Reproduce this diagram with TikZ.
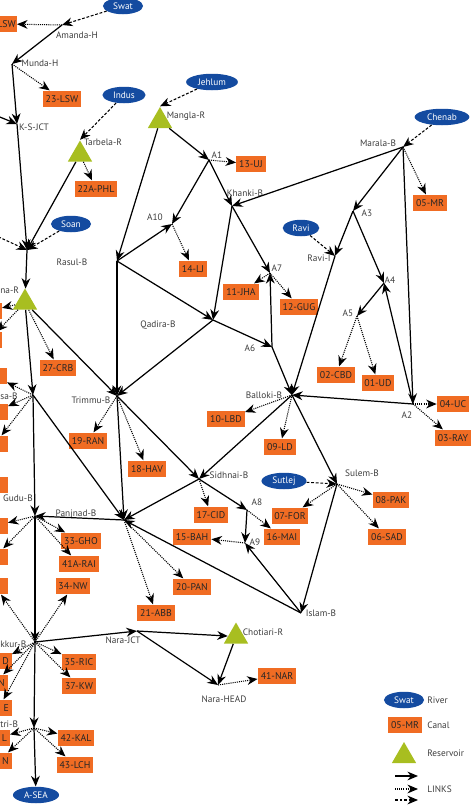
\documentclass[tikz,border=0pt]{standalone}
\usepackage{fontspec}
\setmainfont{PT Sans}
\usetikzlibrary{arrows.meta,shapes.geometric}
\definecolor{riverblue}{RGB}{20,75,160}
\definecolor{canalorange}{RGB}{240,108,35}
\definecolor{resgreen}{RGB}{168,190,32}
\definecolor{sitegray}{RGB}{60,60,60}
\tikzset{
	river/.style={ellipse, fill=riverblue, text=white, minimum height=0.33cm, inner xsep=2.5pt, inner ysep=0pt},
	canal/.style={rectangle, fill=canalorange, text=black!85, font=\fontsize{5.6}{6.5}\selectfont, minimum height=0.33cm, inner xsep=1.6pt, inner ysep=0pt},
	cutcanal/.style={canal, anchor=east, text width=0.4cm, align=right},
	reservoir/.style={regular polygon, regular polygon sides=3, fill=resgreen, minimum size=0.56cm, inner sep=0pt},
	site/.style={text=sitegray, inner sep=0pt},
	flow/.style={-{Stealth[length=6pt,width=5pt]}, line width=0.7pt},
	inflow/.style={flow, line width=0.6pt, dash pattern=on 1.6pt off 1pt},
	offtake/.style={flow, line width=0.6pt, dash pattern=on 0.6pt off 0.6pt}
}
\begin{document}
\begin{tikzpicture}[x=0.02cm, y=-0.02cm, font=\fontsize{5.3}{6}\selectfont]
	\useasboundingbox (0,0) rectangle (474,805);
	\clip (0,0) rectangle (474,805);

	\node[river] (swat) at (123,6) {Swat};
	\node[river] (indus) at (124,95) {Indus};
	\node[river] (soan) at (71,224) {Soan};
	\node[river] (jehlum) at (212,82) {Jehlum};
	\node[river] (chenab) at (442,117) {Chenab};
	\node[river] (ravi) at (301,228) {Ravi};
	\node[river] (sutlej) at (284,481) {Sutlej};
	\node[river] (asea) at (36,795) {A-SEA};

	\node[reservoir] (tarbela) at (80,154.5) {};
	\node[reservoir] (mangla) at (160,121) {};
	\node[reservoir] (chashma) at (25,302.5) {};
	\node[reservoir] (chotiari) at (236,636.5) {};

	\coordinate (amanda) at (62,25);
	\coordinate (munda) at (12,64);
	\coordinate (ksjct) at (17,124);
	\coordinate (confl) at (27,250);
	\coordinate (rasul) at (117,261);
	\coordinate (a10) at (172,224);
	\coordinate (a1) at (209,160);
	\coordinate (khanki) at (232,206);
	\coordinate (marala) at (403,147);
	\coordinate (a3) at (353,211);
	\coordinate (ravii) at (335,256);
	\coordinate (a4) at (384,283);
	\coordinate (a5) at (357,316);
	\coordinate (a7) at (270,273);
	\coordinate (a6) at (272,347);
	\coordinate (qadira) at (213,320);
	\coordinate (balloki) at (292,395);
	\coordinate (a2) at (413,404);
	\coordinate (trimmu) at (117,396);
	\coordinate (taunsa) at (33,395);
	\coordinate (sidhnai) at (199,479);
	\coordinate (sulem) at (337,484);
	\coordinate (a8) at (247,510);
	\coordinate (a9) at (245,543);
	\coordinate (panjnad) at (124,520);
	\coordinate (islam) at (301,613);
	\coordinate (gudu) at (35,516);
	\coordinate (sukkur) at (35,642);
	\coordinate (narajct) at (137,631);
	\coordinate (narahead) at (218,685);
	\coordinate (kotri) at (34,728);
	\coordinate (westKS) at (-10,113);
	\coordinate (westConfl) at (-10,233);

	\node[site] (amandaT) at (77,35) {Amanda-H};
	\node[site] (mundaT) at (40,63) {Munda-H};
	\node[site] (ksjctT) at (34,127) {K-S-JCT};
	\node[site] (tarbelaT) at (103,142) {Tarbela-R};
	\node[site] (rasulT) at (72,262) {Rasul-B};
	\node[site, anchor=west] (chashmaT) at (0,290) {na-R};
	\node[site] (manglaT) at (186,116) {Mangla-R};
	\node[site] (a1T) at (217,155) {A1};
	\node[site] (khankiT) at (245,193) {Khanki-B};
	\node[site] (a10T) at (155,217) {A10};
	\node[site] (maralaT) at (378,143) {Marala-B};
	\node[site] (a3T) at (367,213) {A3};
	\node[site] (raviiT) at (319,258) {Ravi-I};
	\node[site] (a4T) at (390,280) {A4};
	\node[site] (a5T) at (348,313) {A5};
	\node[site] (a7T) at (277,268) {A7};
	\node[site] (a6T) at (250,348) {A6};
	\node[site] (qadiraT) at (158,325) {Qadira-B};
	\node[site] (ballokiT) at (264,395) {Balloki-B};
	\node[site] (a2T) at (407,415) {A2};
	\node[site] (trimmuT) at (91,400) {Trimmu-B};
	\node[site, anchor=west] (taunsaT) at (0,396) {sa-B};
	\node[site] (sidhnaiT) at (229,475) {Sidhnai-B};
	\node[site] (sulemT) at (362,473) {Sulem-B};
	\node[site] (a8T) at (257,502) {A8};
	\node[site] (a9T) at (255,542) {A9};
	\node[site] (islamT) at (321,613) {Islam-B};
	\node[site] (panjnadT) at (76,514) {Panjnad-B};
	\node[site] (guduT) at (18,498) {Gudu-B};
	\node[site, anchor=west] (sukkurT) at (0,644) {kkur-B};
	\node[site] (narajctT) at (123,640) {Nara-JCT};
	\node[site] (chotiariT) at (263,632) {Chotiari-R};
	\node[site] (naraheadT) at (224,699) {Nara-HEAD};
	\node[site, anchor=west] (kotriT) at (0,724) {tri-B};

	\node[canal, anchor=east, inner xsep=0.5pt] (lswW) at (17,24) {LSW};
	\node[canal] (c23lsw) at (62,99) {23-LSW};
	\node[canal] (c22aphl) at (96,189) {22A-PHL};
	\node[canal] (c13uj) at (251,164) {13-UJ};
	\node[canal] (c05mr) at (430,203) {05-MR};
	\node[canal] (c14lj) at (193,269) {14-LJ};
	\node[canal] (c11jha) at (241,292) {11-JHA};
	\node[canal] (c12gug) at (299,307) {12-GUG};
	\node[canal] (c02cbd) at (336,375) {02-CBD};
	\node[canal] (c01ud) at (378,383) {01-UD};
	\node[canal] (c04uc) at (453,404) {04-UC};
	\node[canal] (c03ray) at (453,438) {03-RAY};
	\node[canal] (c10lbd) at (226,419) {10-LBD};
	\node[canal] (c09ld) at (280,447) {09-LD};
	\node[canal] (c27crb) at (58,368) {27-CRB};
	\node[canal] (c19ran) at (88,441) {19-RAN};
	\node[canal] (c18hav) at (147,469) {18-HAV};
	\node[canal] (c17cid) at (211,515) {17-CID};
	\node[canal] (c16mai) at (282,537) {16-MAI};
	\node[canal] (c15bah) at (192,537) {15-BAH};
	\node[canal] (c07for) at (290,516) {07-FOR};
	\node[canal] (c08pak) at (391,500) {08-PAK};
	\node[canal] (c06sad) at (387,537) {06-SAD};
	\node[canal] (c33gho) at (81,541) {33-GHO};
	\node[canal] (c41arai) at (79,564) {41A-RAI};
	\node[canal] (c34nw) at (73,586) {34-NW};
	\node[canal] (c20pan) at (192,587) {20-PAN};
	\node[canal] (c21abb) at (156,613) {21-ABB};
	\node[canal] (c35ric) at (79,662) {35-RIC};
	\node[canal] (c37kw) at (79,686) {37-KW};
	\node[canal] (c42kal) at (76,738) {42-KAL};
	\node[canal] (c43lch) at (75,765) {43-LCH};
	\node[canal] (c41nar) at (277,676) {41-NAR};

	\node[cutcanal] (chashmaW1) at (2,311) {};
	\node[cutcanal] (chashmaW2) at (2,340) {};
	\node[cutcanal] (taunsaW1) at (7,376) {};
	\node[cutcanal] (taunsaW2) at (8,412) {};
	\node[cutcanal] (taunsaW3) at (8,444) {};
	\node[cutcanal] (loneW) at (8,485) {};
	\node[cutcanal] (guduW1) at (8,526) {};
	\node[cutcanal] (guduW2) at (8,557) {};
	\node[cutcanal] (sukkurW0) at (8,586) {};
	\node[cutcanal] (sukkurW1) at (12,661) {D};
	\node[cutcanal] (sukkurW2) at (8,683) {N};
	\node[cutcanal] (sukkurW3) at (12,708) {E};
	\node[cutcanal] (kotriW1) at (10,738) {L};
	\node[cutcanal] (kotriW2) at (12,761) {N};

	\draw[inflow] (swat) -- (amanda);
	\draw[inflow] (indus) -- (tarbela.corner 1);
	\draw[inflow] (soan) -- (confl);
	\draw[inflow] (westConfl) -- (confl);
	\draw[inflow] (jehlum) -- (mangla.corner 1);
	\draw[inflow] (chenab) -- (marala);
	\draw[inflow] (ravi) -- (ravii);
	\draw[inflow] (sutlej) -- (sulem);

	\draw[flow] (amanda) -- (munda);
	\draw[flow] (munda) -- (ksjct);
	\draw[flow] (westKS) -- (ksjct);
	\draw[flow] (ksjct) -- (confl);
	\draw[flow] (tarbela) -- (confl);
	\draw[flow] (confl) -- (chashma);
	\draw[flow] (chashma) -- (taunsa);
	\draw[flow] (chashma) -- (trimmu);
	\draw[flow] (mangla) -- (rasul);
	\draw[flow] (mangla) -- (a1);
	\draw[flow] (a1) -- (khanki);
	\draw[flow] (a1) -- (a10);
	\draw[flow] (rasul) -- (a10);
	\draw[flow] (rasul) -- (qadira);
	\draw[flow] (rasul) -- (trimmu);
	\draw[flow] (khanki) -- (qadira);
	\draw[flow] (khanki) -- (a7);
	\draw[flow] (marala) -- (khanki);
	\draw[flow] (marala) -- (a3);
	\draw[flow] (marala) -- (a2);
	\draw[flow] (a3) -- (ravii);
	\draw[flow] (a3) -- (a4);
	\draw[flow] (a2) -- (a4);
	\draw[flow] (a4) -- (a5);
	\draw[flow] (ravii) -- (balloki);
	\draw[flow] (a2) -- (balloki);
	\draw[flow] (qadira) -- (a6);
	\draw[flow] (qadira) -- (trimmu);
	\draw[flow] (a6) -- (a7);
	\draw[flow] (a6) -- (balloki);
	\draw[flow] (balloki) -- (sidhnai);
	\draw[flow] (balloki) -- (sulem);
	\draw[flow] (trimmu) -- (sidhnai);
	\draw[flow] (trimmu) -- (panjnad);
	\draw[flow] (taunsa) -- (gudu);
	\draw[flow] (taunsa) -- (panjnad);
	\draw[flow] (sidhnai) -- (panjnad);
	\draw[flow] (sidhnai) -- (a8);
	\draw[flow] (a8) -- (a9);
	\draw[flow] (sulem) -- (islam);
	\draw[flow] (islam) -- (a9);
	\draw[flow] (islam) -- (panjnad);
	\draw[flow] (panjnad) -- (gudu);
	\draw[flow] (gudu) -- (sukkur);
	\draw[flow] (sukkur) -- (narajct);
	\draw[flow] (narajct) -- (chotiari);
	\draw[flow] (narajct) -- (narahead);
	\draw[flow] (chotiari) -- (narahead);
	\draw[flow] (sukkur) -- (kotri);
	\draw[flow] (kotri) -- (asea);

	\draw[offtake] (amanda) -- (lswW);
	\draw[offtake] (munda) -- (c23lsw);
	\draw[offtake] (tarbela) -- (c22aphl);
	\draw[offtake] (a1) -- (c13uj);
	\draw[offtake] (marala) -- (c05mr);
	\draw[offtake] (a10) -- (c14lj);
	\draw[offtake] (a7) -- (c11jha);
	\draw[offtake] (a7) -- (c12gug);
	\draw[offtake] (a5) -- (c02cbd);
	\draw[offtake] (a5) -- (c01ud);
	\draw[offtake] (a2) -- (c04uc);
	\draw[offtake] (a2) -- (c03ray);
	\draw[offtake] (balloki) -- (c10lbd);
	\draw[offtake] (balloki) -- (c09ld);
	\draw[offtake] (chashma) -- (c27crb);
	\draw[offtake] (chashma) -- (chashmaW1);
	\draw[offtake] (chashma) -- (chashmaW2);
	\draw[offtake] (trimmu) -- (c19ran);
	\draw[offtake] (trimmu) -- (c18hav);
	\draw[offtake] (taunsa) -- (taunsaW1);
	\draw[offtake] (taunsa) -- (taunsaW2);
	\draw[offtake] (taunsa) -- (taunsaW3);
	\draw[offtake] (sidhnai) -- (c17cid);
	\draw[offtake] (a8) -- (c16mai);
	\draw[offtake] (a9) -- (c15bah);
	\draw[offtake] (sulem) -- (c07for);
	\draw[offtake] (sulem) -- (c08pak);
	\draw[offtake] (sulem) -- (c06sad);
	\draw[offtake] (panjnad) -- (c20pan);
	\draw[offtake] (panjnad) -- (c21abb);
	\draw[offtake] (gudu) -- (guduW1);
	\draw[offtake] (gudu) -- (guduW2);
	\draw[offtake] (gudu) -- (c33gho);
	\draw[offtake] (gudu) -- (c41arai);
	\draw[offtake] (sukkur) -- (c34nw);
	\draw[offtake] (sukkur) -- (sukkurW0);
	\draw[offtake] (sukkur) -- (c35ric);
	\draw[offtake] (sukkur) -- (c37kw);
	\draw[offtake] (sukkur) -- (sukkurW1);
	\draw[offtake] (sukkur) -- (sukkurW2);
	\draw[offtake] (sukkur) -- (sukkurW3);
	\draw[offtake] (kotri) -- (kotriW1);
	\draw[offtake] (kotri) -- (kotriW2);
	\draw[offtake] (kotri) -- (c42kal);
	\draw[offtake] (kotri) -- (c43lch);
	\draw[offtake] (narahead) -- (c41nar);

	\node[river] (keyRiver) at (404,700) {Swat};
	\node[canal] (keyCanal) at (405,725) {05-MR};
	\node[reservoir] (keyRes) at (404,756) {};
	\node[site, anchor=west] (keyRiverT) at (427,700) {River};
	\node[site, anchor=west] (keyCanalT) at (427,725) {Canal};
	\node[site, anchor=west] (keyResT) at (427,753) {Reservoir};
	\node[site, anchor=west] (keyLinkT) at (427,789) {LINKS};
	\coordinate (keyA1) at (395,776);
	\coordinate (keyB1) at (418,776);
	\coordinate (keyA2) at (395,789);
	\coordinate (keyB2) at (418,789);
	\coordinate (keyA3) at (395,800);
	\coordinate (keyB3) at (418,800);
	\draw[flow] (keyA1) -- (keyB1);
	\draw[offtake] (keyA2) -- (keyB2);
	\draw[inflow] (keyA3) -- (keyB3);
\end{tikzpicture}
\end{document}
